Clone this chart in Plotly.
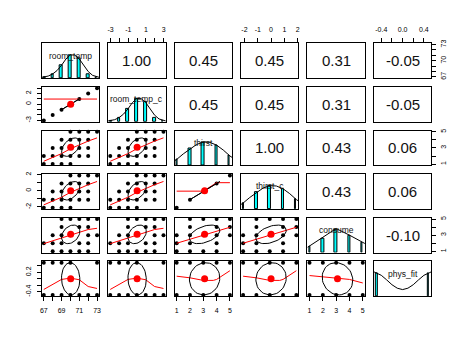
import numpy as np
import plotly.graph_objects as go

W, H = 474, 338
FONT = "Liberation Sans, Arial, sans-serif"

# ---------------- data ----------------
var_names = ["room_temp", "room_temp_c", "thirst", "thirst_c", "consume", "phys_fit"]
var_lo = [67, -3.03, 1, -2.1, 1, -0.5]
var_hi = [73, 2.97, 5, 1.9, 5, 0.5]
var_mean = [70.03, 0.0, 3.1, 0.0, 3.1, 0.0]
var_sd = [1.03, 1.03, 1.14, 1.14, 1.15, 0.5]
var_base = [0, 0, 1, 1, 2, 3]          # underlying raw variable
var_shift = [0.0, -70.03, 0.0, -3.1, 0.0, 0.0]  # centering offset

corr = [
    [1.00, 1.00, 0.45, 0.45, 0.31, -0.05],
    [1.00, 1.00, 0.45, 0.45, 0.31, -0.05],
    [0.45, 0.45, 1.00, 1.00, 0.43, 0.06],
    [0.45, 0.45, 1.00, 1.00, 0.43, 0.06],
    [0.31, 0.31, 0.43, 0.43, 1.00, -0.10],
    [-0.05, -0.05, 0.06, 0.06, -0.10, 1.00],
]

# histograms of raw variables (heights as fraction of panel height)
hist_vals = {
    0: [67, 68, 69, 70, 71, 72, 73],
    1: [1, 2, 3, 4, 5],
    2: [1, 2, 3, 4, 5],
    3: [-0.5, 0.5],
}
hist_heights = {
    0: [0.03, 0.10, 0.36, 0.67, 0.56, 0.10, 0.03],
    1: [0.17, 0.47, 0.67, 0.57, 0.27],
    2: [0.16, 0.41, 0.67, 0.48, 0.27],
    3: [0.67, 0.67],
}
hist_barw = {0: 0.32, 1: 0.2, 2: 0.2, 3: 0.07}

dens_x = {
    0: [66.7, 67, 67.5, 68, 68.5, 69, 69.5, 70, 70.5, 71, 71.5, 72, 72.5, 73, 73.3],
    1: [0.84, 1, 1.5, 2, 2.5, 3, 3.5, 4, 4.5, 5, 5.16],
    2: [0.84, 1, 2, 3, 4, 5, 5.16],
    3: [-0.54, -0.5, -0.4, -0.3, -0.2, -0.1, 0.0, 0.1, 0.2, 0.3, 0.4, 0.5, 0.54],
}
dens_y = {
    0: [0.02, 0.03, 0.06, 0.12, 0.22, 0.37, 0.55, 0.67, 0.66, 0.55, 0.37, 0.19, 0.08, 0.03, 0.02],
    1: [0.13, 0.17, 0.33, 0.47, 0.60, 0.67, 0.66, 0.58, 0.44, 0.27, 0.23],
    2: [0.15, 0.19, 0.43, 0.69, 0.50, 0.29, 0.26],
    3: [0.70, 0.67, 0.60, 0.47, 0.33, 0.23, 0.19, 0.23, 0.33, 0.47, 0.60, 0.67, 0.70],
}

# scatter points for raw-variable pairs (x = column var, y = row var)
pts = {
    (1, 0): ([70, 71, 72, 73, 69, 70, 71, 72, 68, 69, 70, 71, 72, 67, 68, 69, 70, 71, 72, 67, 68, 69, 70],
             [5, 5, 5, 5, 4, 4, 4, 4, 3, 3, 3, 3, 3, 2, 2, 2, 2, 2, 2, 1, 1, 1, 1]),
    (2, 0): ([69, 70, 71, 72, 73, 69, 71, 72, 68, 69, 70, 72, 73, 67, 68, 69, 71, 72, 68, 69, 70, 71, 72],
             [5, 5, 5, 5, 5, 4, 4, 4, 3, 3, 3, 3, 3, 2, 2, 2, 2, 2, 1, 1, 1, 1, 1]),
    (2, 1): ([2, 3, 4, 5, 2, 4, 5, 1, 2, 3, 4, 5, 1, 2, 4, 1, 2, 3, 4],
             [5, 5, 5, 5, 4, 4, 4, 3, 3, 3, 3, 3, 2, 2, 2, 1, 1, 1, 1]),
    (3, 0): ([67, 68, 69, 70, 73, 67, 68, 69, 70, 71, 72, 73],
             [0.5, 0.5, 0.5, 0.5, 0.5, -0.5, -0.5, -0.5, -0.5, -0.5, -0.5, -0.5]),
    (3, 1): ([1, 2, 3, 4, 5, 1, 2, 3, 4, 5],
             [0.5, 0.5, 0.5, 0.5, 0.5, -0.5, -0.5, -0.5, -0.5, -0.5]),
    (3, 2): ([1, 2, 3, 4, 5, 1, 2, 3, 4, 5],
             [0.5, 0.5, 0.5, 0.5, 0.5, -0.5, -0.5, -0.5, -0.5, -0.5]),
}
# identity pairs (variable vs its centred copy)
ident_pts = {0: [67, 68, 69, 70, 71, 72, 73], 1: [1, 2, 3, 4, 5]}

# loess smooths (raw units)
smooth = {
    (1, 0): ([67, 68, 69, 70, 71, 72, 73], [1.35, 1.8, 2.3, 2.9, 3.4, 3.85, 4.25]),
    (2, 0): ([67, 68, 69, 70, 71, 72, 73], [1.95, 2.3, 2.65, 3.0, 3.35, 3.7, 3.85]),
    (2, 1): ([1, 2, 3, 4, 5], [2.0, 2.5, 3.0, 3.5, 3.98]),
    (3, 0): ([67, 68, 69, 70, 71, 72, 73], [-0.33, -0.18, -0.02, 0.02, -0.03, -0.24, -0.30]),
    (3, 1): ([1, 2, 3, 3.75, 4, 5], [0.08, 0.03, -0.05, -0.05, -0.02, 0.25]),
    (3, 2): ([1, 2, 3, 4, 5], [0.10, 0.07, 0.02, -0.02, -0.13]),
}
ident_smooth = {0: ([67, 73], [70.98, 70.98]), 1: ([1, 3, 4, 5], [3.05, 3.05, 4.1, 4.1])}

# ---------------- tick specs ----------------
top_ticks = {
    1: ([-3, -2, -1, 0, 1, 2, 3], ["-3", "", "-1", "", "1", "", "3"]),
    3: ([-2, -1, 0, 1, 2], ["-2", "-1", "0", "1", "2"]),
    5: ([-0.4, -0.2, 0, 0.2, 0.4], ["-0.4", "", "0.0", "", "0.4"]),
}
bottom_ticks = {
    0: ([67, 68, 69, 70, 71, 72, 73], ["67", "", "69", "", "71", "", "73"]),
    2: ([1, 2, 3, 4, 5], ["1", "2", "3", "4", "5"]),
    4: ([1, 2, 3, 4, 5], ["1", "2", "3", "4", "5"]),
}
left_ticks = {
    1: ([-3, -2, -1, 0, 1, 2, 3], ["-3", "", "", "0", "", "2", ""]),
    3: ([-2, -1, 0, 1, 2], ["-2", "", "0", "", "2"]),
    5: ([-0.4, -0.2, 0, 0.2, 0.4], ["-0.4", "", "", "0.2", ""]),
}
right_ticks = {
    0: ([67, 68, 69, 70, 71, 72, 73], ["67", "", "", "70", "", "", "73"]),
    2: ([1, 2, 3, 4, 5], ["1", "", "3", "", "5"]),
    4: ([1, 2, 3, 4, 5], ["1", "", "3", "", "5"]),
}

# ---------------- layout geometry ----------------
col_left = [40, 107, 174, 241, 308, 375]
pw = 58
row_top = [40, 84.4, 128.8, 173.2, 217.6, 262]
ph = 35.5


def padr(lo, hi):
    d = (hi - lo) * 0.04
    return [lo - d, hi + d]


def ellipse_xy(xm, ym, xs, ys, r, seg=51):
    ang = np.arange(seg + 1) * 2 * np.pi / seg
    c, s = np.cos(ang), np.sin(ang)
    t = (np.sign(r) if r != 0 else 1.0) / np.sqrt(2)
    a, b = np.sqrt(1 + r), np.sqrt(max(1 - r, 0))
    ex = t * (a * c - b * s)
    ey = t * (a * c + b * s)
    return xm + xs * ex, ym + ys * ey


fig = go.Figure()
layout = dict(width=W, height=H, margin=dict(l=0, r=0, t=0, b=0),
              paper_bgcolor="white", plot_bgcolor="white", showlegend=False,
              font=dict(family=FONT, color="#111"))
annotations = []

for i in range(6):
    for j in range(6):
        k = i * 6 + j + 1
        xa = "x" if k == 1 else f"x{k}"
        ya = "y" if k == 1 else f"y{k}"
        xkey = "xaxis" if k == 1 else f"xaxis{k}"
        ykey = "yaxis" if k == 1 else f"yaxis{k}"
        xdom = [col_left[j] / W, (col_left[j] + pw) / W]
        ydom = [1 - (row_top[i] + ph) / H, 1 - row_top[i] / H]
        xr = padr(var_lo[j], var_hi[j])
        yr = [0, 1] if i == j else padr(var_lo[i], var_hi[i])
        base_ax = dict(showline=True, mirror=True, linecolor="black", linewidth=1,
                       showgrid=False, zeroline=False, ticks="", showticklabels=False,
                       fixedrange=True)
        xax = dict(base_ax, domain=xdom, range=xr, anchor=ya)
        yax = dict(base_ax, domain=ydom, range=yr, anchor=xa)
        tk = dict(ticks="outside", ticklen=4, tickwidth=1, tickcolor="black",
                  showticklabels=True, tickfont=dict(size=7, family=FONT, color="black"))
        if i == 0 and j in top_ticks:
            xax.update(tk, side="top", tickvals=top_ticks[j][0], ticktext=top_ticks[j][1],
                       ticklabelstandoff=3)
        if i == 5 and j in bottom_ticks:
            xax.update(tk, side="bottom", tickvals=bottom_ticks[j][0], ticktext=bottom_ticks[j][1],
                       ticklabelstandoff=3)
        if j == 0 and i in left_ticks:
            yax.update(tk, side="left", tickvals=left_ticks[i][0], ticktext=left_ticks[i][1],
                       tickangle=-90, ticklabelstandoff=3)
        if j == 5 and i in right_ticks:
            yax.update(tk, side="right", tickvals=right_ticks[i][0], ticktext=right_ticks[i][1],
                       tickangle=-90, ticklabelstandoff=1)
        layout[xkey] = xax
        layout[ykey] = yax

        if i == j:
            b = var_base[i]
            sh = var_shift[i]
            lo, hi = var_lo[i], var_hi[i]
            w = hist_barw[b]
            cs, ws = [], []
            for v in hist_vals[b]:
                v2 = v + sh
                l, r_ = max(v2 - w / 2, lo), min(v2 + w / 2, hi)
                cs.append((l + r_) / 2)
                ws.append(r_ - l)
            fig.add_trace(go.Bar(x=cs, y=hist_heights[b], width=ws, base=0,
                                 marker=dict(color="#00FFFF", line=dict(color="black", width=1)),
                                 xaxis=xa, yaxis=ya, hoverinfo="skip"))
            fig.add_trace(go.Scatter(x=[v + sh for v in dens_x[b]], y=dens_y[b], mode="lines",
                                     line=dict(color="black", width=1), xaxis=xa, yaxis=ya,
                                     hoverinfo="skip", cliponaxis=True))
            annotations.append(dict(text=var_names[i], xref=f"{xa} domain", yref=f"{ya} domain",
                                    x=0.5, y=0.85, showarrow=False,
                                    font=dict(size=8.5, family=FONT, color="#111")))
        elif j > i:
            # invisible anchor trace so the panel box and its ticks are drawn
            fig.add_trace(go.Scatter(x=[var_mean[j]], y=[var_mean[i]], mode="markers",
                                     marker=dict(size=1, opacity=0), xaxis=xa, yaxis=ya,
                                     hoverinfo="skip"))
            annotations.append(dict(text=f"{corr[i][j]:.2f}", xref=f"{xa} domain", yref=f"{ya} domain",
                                    x=0.5, y=0.5, showarrow=False,
                                    font=dict(size=15, family=FONT, color="#111")))
        else:
            bi, bj = var_base[i], var_base[j]
            si, sj = var_shift[i], var_shift[j]
            if bi == bj:
                px = [v + sj for v in ident_pts[bi]]
                py = [v + si for v in ident_pts[bi]]
                sx = [v + sj for v in ident_smooth[bi][0]]
                sy = [v + si for v in ident_smooth[bi][1]]
            else:
                px = [v + sj for v in pts[(bi, bj)][0]]
                py = [v + si for v in pts[(bi, bj)][1]]
                sx = [v + sj for v in smooth[(bi, bj)][0]]
                sy = [v + si for v in smooth[(bi, bj)][1]]
            fig.add_trace(go.Scatter(x=px, y=py, mode="markers",
                                     marker=dict(color="black", size=4), xaxis=xa, yaxis=ya,
                                     hoverinfo="skip", cliponaxis=False))
            fig.add_trace(go.Scatter(x=sx, y=sy, mode="lines", line=dict(color="red", width=1),
                                     xaxis=xa, yaxis=ya, hoverinfo="skip"))
            ex, ey = ellipse_xy(var_mean[j], var_mean[i], var_sd[j], var_sd[i], corr[i][j])
            fig.add_trace(go.Scatter(x=ex, y=ey, mode="lines", line=dict(color="black", width=1),
                                     xaxis=xa, yaxis=ya, hoverinfo="skip"))
            fig.add_trace(go.Scatter(x=[var_mean[j]], y=[var_mean[i]], mode="markers",
                                     marker=dict(color="red", size=7), xaxis=xa, yaxis=ya,
                                     hoverinfo="skip"))

layout["annotations"] = annotations
layout["bargap"] = 0
layout["barmode"] = "overlay"
fig.update_layout(**layout)
fig.write_html("out.html")
